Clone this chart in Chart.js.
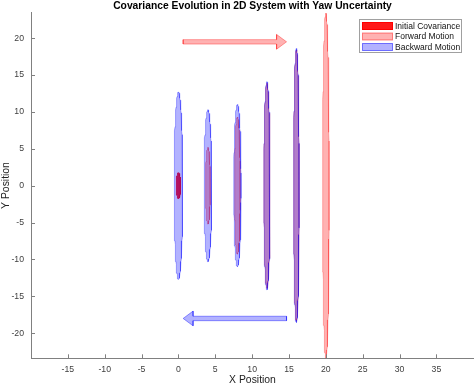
<!DOCTYPE html>
<html lang="en">
<head>
    <meta charset="UTF-8">
    <title>Covariance Evolution</title>
    <script src="https://cdn.jsdelivr.net/npm/chart.js"></script>
    <style>
        body { margin: 0; background: #fff; }
        #wrap { width: 474px; height: 386px; position: relative; }
    </style>
</head>
<body>
    <div id="wrap"><canvas id="covChart"></canvas></div>

    <script>
        // axis ticks
        const xTicks = [-15, -10, -5, 0, 5, 10, 15, 20, 25, 30, 35];
        const yTicks = [-20, -15, -10, -5, 0, 5, 10, 15, 20];

        // initial covariance (center x, semi axes)
        const initX = [0];
        const initSemiX = [0.3];
        const initSemiY = [1.75];

        // forward motion ellipses
        const fwdX = [4, 8, 12, 16, 20];
        const fwdSemiX = [0.33, 0.38, 0.42, 0.38, 0.45];
        const fwdSemiY = [5.2, 9.3, 13.9, 18.4, 23.4];

        // backward motion ellipses
        const bwdX = [16, 12, 8, 4, 0];
        const bwdSemiX = [0.38, 0.42, 0.5, 0.52, 0.58];
        const bwdSemiY = [18.6, 14.1, 11.0, 10.3, 12.7];

        // arrows: start x, end x, y
        const fwdArrow = [0.64, 14.67, 19.5];
        const bwdArrow = [14.67, 0.64, -18.0];

        const RED_FILL = 'rgba(255,0,0,0.3)';
        const RED_EDGE = 'rgba(255,0,0,0.35)';
        const BLUE_FILL = 'rgba(0,0,255,0.3)';
        const BLUE_EDGE = 'rgba(0,0,255,0.4)';
        const INIT_FILL = 'rgba(255,0,0,0.9)';

        function ellipsePts(cx, sx, sy) {
            const pts = [];
            const n = 120;
            for (let i = 0; i <= n; i++) {
                const t = 2 * Math.PI * i / n;
                pts.push({ x: cx + sx * Math.sin(t), y: sy * Math.cos(t) });
            }
            return pts;
        }

        function arrowPts(a) {
            const x0 = a[0], x1 = a[1], y = a[2];
            const dir = x1 > x0 ? 1 : -1;
            const headLen = 1.35, headHalf = 1.0, shaft = 0.3;
            const xb = x1 - dir * headLen;
            return [
                { x: x0, y: y - shaft }, { x: xb, y: y - shaft }, { x: xb, y: y - headHalf },
                { x: x1, y: y }, { x: xb, y: y + headHalf }, { x: xb, y: y + shaft },
                { x: x0, y: y + shaft }, { x: x0, y: y - shaft }
            ];
        }

        function shape(pts, fillCol, edgeCol, order) {
            return {
                data: pts,
                showLine: true,
                fill: 'shape',
                backgroundColor: fillCol,
                borderColor: edgeCol,
                borderWidth: 0.8,
                pointRadius: 0,
                tension: 0,
                order: order
            };
        }

        const datasets = [];
        bwdX.forEach((x, i) => datasets.push(shape(ellipsePts(x, bwdSemiX[i], bwdSemiY[i]), BLUE_FILL, BLUE_EDGE, 1)));
        fwdX.forEach((x, i) => datasets.push(shape(ellipsePts(x, fwdSemiX[i], fwdSemiY[i]), RED_FILL, RED_EDGE, 2)));
        initX.forEach((x, i) => datasets.push(shape(ellipsePts(x, initSemiX[i], initSemiY[i]), INIT_FILL, 'rgba(255,0,0,1)', 3)));
        datasets.push(shape(arrowPts(fwdArrow), RED_FILL, 'rgba(255,0,0,0.45)', 0));
        datasets.push(shape(arrowPts(bwdArrow), BLUE_FILL, 'rgba(0,0,255,0.5)', 0));

        const legendItems = [
            { text: 'Initial Covariance', fill: INIT_FILL, edge: 'rgba(255,0,0,1)' },
            { text: 'Forward Motion', fill: RED_FILL, edge: 'rgba(255,0,0,0.45)' },
            { text: 'Backward Motion', fill: BLUE_FILL, edge: 'rgba(0,0,255,0.5)' }
        ];

        const decor = {
            id: 'decor',
            afterDraw(chart) {
                const ctx = chart.ctx;
                const area = chart.chartArea;
                const xs = chart.scales.x, ys = chart.scales.y;
                ctx.save();
                // inward tick marks
                ctx.strokeStyle = '#808080';
                ctx.lineWidth = 1;
                ctx.beginPath();
                xTicks.forEach(v => {
                    const px = Math.round(xs.getPixelForValue(v)) + 0.5;
                    ctx.moveTo(px, area.bottom);
                    ctx.lineTo(px, area.bottom - 4);
                });
                yTicks.forEach(v => {
                    const py = Math.round(ys.getPixelForValue(v)) + 0.5;
                    ctx.moveTo(area.left, py);
                    ctx.lineTo(area.left + 4, py);
                });
                ctx.stroke();

                // title
                ctx.fillStyle = '#000';
                ctx.font = 'bold 10.3px "Liberation Sans", Arial, sans-serif';
                ctx.textAlign = 'center';
                ctx.textBaseline = 'alphabetic';
                ctx.fillText('Covariance Evolution in 2D System with Yaw Uncertainty', (area.left + area.right) / 2, 8.5);

                // legend
                const bx = 359.5, by = 19.5, bw = 102, bh = 33;
                ctx.fillStyle = '#fff';
                ctx.fillRect(bx, by, bw, bh);
                ctx.strokeStyle = '#a0a0a0';
                ctx.strokeRect(bx, by, bw, bh);
                ctx.font = '8.5px "Liberation Sans", Arial, sans-serif';
                ctx.textAlign = 'left';
                ctx.textBaseline = 'middle';
                legendItems.forEach((it, i) => {
                    const cy = 26 + i * 10.5;
                    ctx.fillStyle = it.fill;
                    ctx.fillRect(362.5, cy - 3.5, 30, 7);
                    ctx.strokeStyle = it.edge;
                    ctx.strokeRect(362.5, cy - 3.5, 30, 7);
                    ctx.fillStyle = '#111';
                    ctx.fillText(it.text, 395, cy + 0.5);
                });
                ctx.restore();
            }
        };

        const tickFont = { family: '"Liberation Sans", Arial, sans-serif', size: 8.7 };
        const titleFont = { family: '"Liberation Sans", Arial, sans-serif', size: 10.4 };

        new Chart(document.getElementById('covChart'), {
            type: 'scatter',
            data: { datasets: datasets },
            options: {
                responsive: true,
                maintainAspectRatio: false,
                animation: false,
                events: [],
                layout: { padding: { top: 12.7, right: 0, left: 0, bottom: 0 } },
                plugins: {
                    legend: { display: false },
                    title: { display: false },
                    tooltip: { enabled: false }
                },
                scales: {
                    x: {
                        type: 'linear',
                        min: -20,
                        max: 40.1,
                        afterBuildTicks: s => { s.ticks = xTicks.map(v => ({ value: v })); },
                        afterFit: s => { s.height = 27.7; },
                        grid: { display: false, drawTicks: false },
                        border: { display: true, color: '#808080', width: 1 },
                        ticks: { color: '#404040', font: tickFont, padding: 6, maxRotation: 0, autoSkip: false },
                        title: { display: true, text: 'X Position', color: '#222', font: titleFont, padding: 0 }
                    },
                    y: {
                        type: 'linear',
                        min: -23.4,
                        max: 23.45,
                        afterBuildTicks: s => { s.ticks = yTicks.map(v => ({ value: v })); },
                        afterFit: s => { s.width = 31; },
                        grid: { display: false, drawTicks: false },
                        border: { display: true, color: '#808080', width: 1 },
                        ticks: { color: '#404040', font: tickFont, padding: 7, autoSkip: false },
                        title: { display: true, text: 'Y Position', color: '#222', font: titleFont, padding: 0 }
                    }
                }
            },
            plugins: [decor]
        });
    </script>
</body>
</html>
